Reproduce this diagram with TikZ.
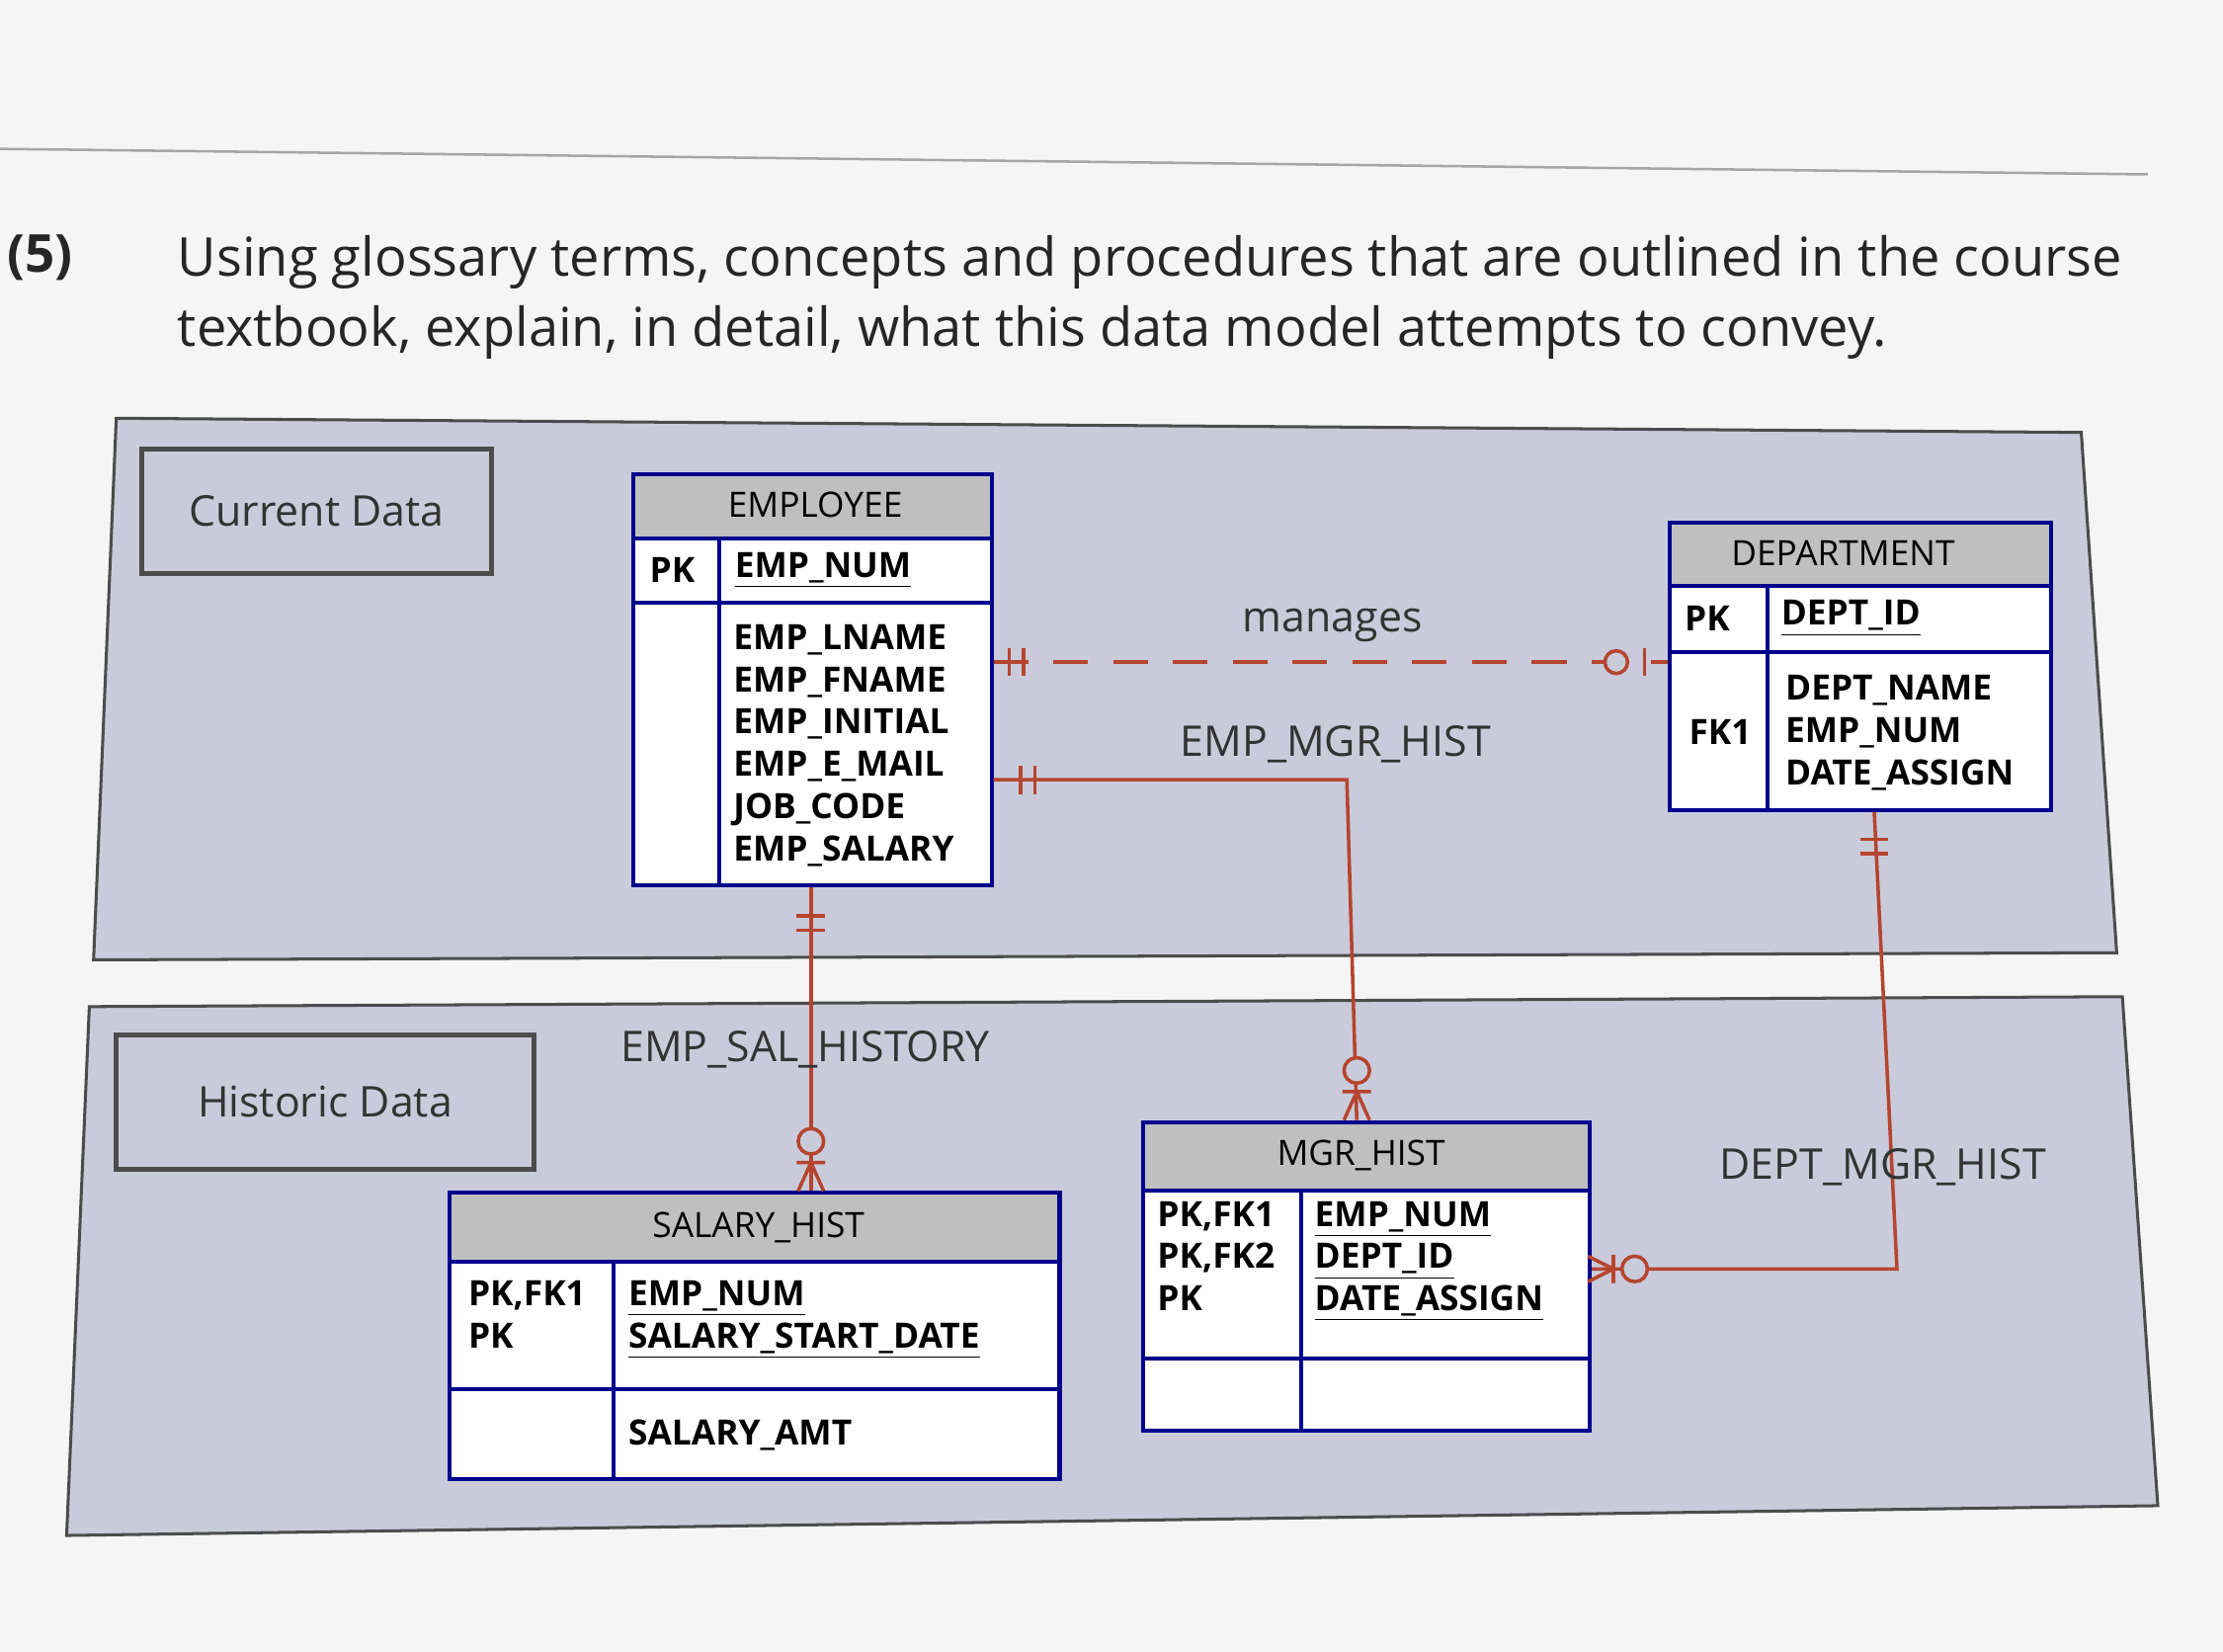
\documentclass[tikz,border=0pt]{standalone}
\usepackage{fontspec}
\setmainfont{Open Sans}
\begin{document}
\begin{tikzpicture}[x=0.02cm,y=-0.02cm,
 panel/.style={draw=black!70,line width=1.2pt,fill=panelc},
 lbox/.style={draw=black!70,line width=2pt,fill=panelc,inner sep=0},
 ent/.style={draw=blue!55!black,line width=1.6pt,inner sep=0,anchor=north west},
 hdr/.style={fill=black!25},
 rel/.style={draw=relc,line width=1.4pt},
 tt/.style={font=\fontsize{14}{17}\selectfont\bfseries,align=left,anchor=west,inner sep=0},
 ht/.style={font=\fontsize{14}{17}\selectfont,inner sep=0},
 lab/.style={font=\fontsize{17}{20}\selectfont,text=black!80,inner sep=0}]
\definecolor{panelc}{HTML}{C9CBDA}
\definecolor{relc}{HTML}{B5452E}
\useasboundingbox (0,0) rectangle (1568,1165);
\fill[black!4] (0,0) rectangle (1568,1165);
\draw[black!35,line width=1pt] (0,105) -- (1515,123);
\node[font=\fontsize{21}{25}\selectfont\bfseries,text=black!85] (q5) at (28,182) {(5)};
\node[font=\fontsize{21.5}{28}\selectfont,text=black!85,anchor=north west,align=left,inner sep=0] (q) at (125,166)
 {Using glossary terms, concepts and procedures that are outlined in the course\\textbook, explain, in detail, what this data model attempts to convey.};
% panels
\draw[panel] (82,295) -- (1468,305) -- (1493,672) -- (66,677) -- cycle;
\draw[panel] (63,710) -- (1497,703) -- (1522,1062) -- (47,1083) -- cycle;
\node[lbox,minimum width=247*0.02cm,minimum height=88*0.02cm,lab,anchor=north west] (cur) at (98,315) {Current Data};
\node[lbox,minimum width=295*0.02cm,minimum height=95*0.02cm,lab,anchor=north west] (his) at (80,728) {Historic Data};
% EMPLOYEE
\fill[white] (445,333) rectangle (698,623);\fill[hdr] (445,333) rectangle (698,380);
\node[ent,minimum width=253*0.02cm,minimum height=290*0.02cm] (emp) at (445,333) {};
\draw[blue!55!black,line width=1.6pt] (445,380)--(698,380) (445,425)--(698,425) (507,380)--(507,623);
\node[ht] (emph) at (575,356) {EMPLOYEE};
\node[tt] (emppk) at (458,402) {PK};
\node[tt] (empk) at (518,402) {\underline{EMP\_NUM}};
\node[tt,anchor=north west] (empa) at (517,440) {EMP\_LNAME\\EMP\_FNAME\\EMP\_INITIAL\\EMP\_E\_MAIL\\JOB\_CODE\\EMP\_SALARY};
% DEPARTMENT
\fill[white] (1176,367) rectangle (1445,570);\fill[hdr] (1176,367) rectangle (1445,413);
\node[ent,minimum width=269*0.02cm,minimum height=203*0.02cm] (dep) at (1176,367) {};
\draw[blue!55!black,line width=1.6pt] (1176,413)--(1445,413) (1176,460)--(1445,460) (1247,413)--(1247,570);
\node[ht] (deph) at (1300,390) {DEPARTMENT};
\node[tt] (deppk) at (1188,436) {PK};
\node[tt] (depk) at (1256,436) {\underline{DEPT\_ID}};
\node[tt] (depfk) at (1191,516) {FK1};
\node[tt,anchor=north west] (depa) at (1259,476) {DEPT\_NAME\\EMP\_NUM\\DATE\_ASSIGN};
% SALARY_HIST
\fill[white] (316,840) rectangle (746,1042);\fill[hdr] (316,840) rectangle (746,890);
\node[ent,minimum width=430*0.02cm,minimum height=202*0.02cm] (sal) at (316,840) {};
\draw[blue!55!black,line width=1.6pt] (316,890)--(746,890) (316,980)--(746,980) (433,890)--(433,1042);
\node[ht] (salh) at (535,866) {SALARY\_HIST};
\node[tt,anchor=north west] (salpk) at (330,903) {PK,FK1\\PK};
\node[tt,anchor=north west] (salk) at (443,903) {\underline{EMP\_NUM}\\\underline{SALARY\_START\_DATE}};
\node[tt] (sala) at (443,1012) {SALARY\_AMT};
% MGR_HIST
\fill[white] (805,790) rectangle (1120,1008);\fill[hdr] (805,790) rectangle (1120,840);
\node[ent,minimum width=315*0.02cm,minimum height=218*0.02cm] (mgr) at (805,790) {};
\draw[blue!55!black,line width=1.6pt] (805,840)--(1120,840) (805,958)--(1120,958) (918,840)--(918,1008);
\node[ht] (mgrh) at (960,815) {MGR\_HIST};
\node[tt,anchor=north west] (mgrpk) at (816,847) {PK,FK1\\PK,FK2\\PK};
\node[tt,anchor=north west] (mgrk) at (927,847) {\underline{EMP\_NUM}\\\underline{DEPT\_ID}\\\underline{DATE\_ASSIGN}};
% relationships
\coordinate (m1) at (emp.east |- 0,467); \coordinate (m2) at (dep.west |- 0,467);
\draw[rel,dash pattern=on 14pt off 10pt] (m1) -- (m2);
\draw[rel] (712,457)--(712,477) (722,457)--(722,477);
\draw[rel,fill=panelc] (1140,467) circle (8);
\draw[rel] (1160,457)--(1160,477);
\node[lab] (lman) at (940,441) {manages};
\coordinate (h1) at (emp.east |- 0,550); \coordinate (h2) at (950,550); \coordinate (h3) at (mgr.north -| 957,0);
\draw[rel] (h1) -- (h2) -- (h3);
\draw[rel] (720,540)--(720,560) (730,540)--(730,560);
\draw[rel,fill=panelc] (957,755) circle (9);
\draw[rel] (947,770)--(967,770) (948,790)--(957,770)--(966,790);
\node[lab] (lmh) at (942,525) {EMP\_MGR\_HIST};
\coordinate (s1) at (emp.south -| 572,0); \coordinate (s2) at (sal.north -| 572,0);
\draw[rel] (s1) -- (s2);
\draw[rel] (562,646)--(582,646) (562,656)--(582,656);
\draw[rel,fill=panelc] (572,805) circle (9);
\draw[rel] (562,820)--(582,820) (563,840)--(572,820)--(581,840);
\node[lab] (lsal) at (568,740) {EMP\_SAL\_HISTORY};
\coordinate (d1) at (dep.south -| 1322,0); \coordinate (d2) at (1338,895); \coordinate (d3) at (mgr.east |- 0,895);
\draw[rel] (d1) -- (d2) -- (d3);
\draw[rel] (1312,592)--(1332,592) (1312,602)--(1332,602);
\draw[rel,fill=panelc] (1153,895) circle (9);
\draw[rel] (1138,885)--(1138,905) (1120,886)--(1138,895)--(1120,904);
\node[lab] (ldm) at (1328,823) {DEPT\_MGR\_HIST};
\end{tikzpicture}
\end{document}
